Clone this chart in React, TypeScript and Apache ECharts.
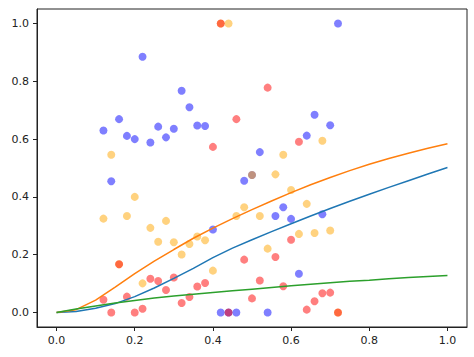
import React, { useEffect, useRef } from "react";
import * as echarts from "echarts";

// scatter x positions (shared by the three point groups)
const pointX = [0.12, 0.14, 0.16, 0.18, 0.2, 0.22, 0.24, 0.26, 0.28, 0.3, 0.32, 0.34, 0.36, 0.38, 0.4, 0.42, 0.44, 0.46, 0.48, 0.5, 0.52, 0.54, 0.56, 0.58, 0.6, 0.62, 0.64, 0.66, 0.68, 0.7, 0.72];
const blueY = [0.63, 0.454, 0.669, 0.611, 0.6, 0.885, 0.588, 0.643, 0.606, 0.636, 0.767, 0.71, 0.647, 0.645, 0.287, 0, 0, 0, 0.456, 0.476, 0.555, 0, 0.334, 0.364, 0.324, 0.134, 0.612, 0.684, 0.34, 0.648, 1.0];
const orangeY = [0.325, 0.546, 0.167, 0.334, 0.4, 0.101, 0.293, 0.245, 0.317, 0.243, 0.201, 0.237, 0.263, 0.25, 0.145, 1.0, 1.0, 0.334, 0.364, 0.476, 0.334, 0.221, 0.478, 0.546, 0.424, 0.272, 0.376, 0.275, 0.594, 0.284, 0];
const redY = [0.044, 0, 0.167, 0.055, 0, 0.013, 0.117, 0.109, 0.078, 0.121, 0.033, 0.054, 0.09, 0.102, 0.573, 1.0, 0, 0.669, 0.183, 0.049, 0.111, 0.778, 0.192, 0.091, 0.252, 0.591, 0.01, 0.039, 0.067, 0.069, 0];

// curve samples
const curveX = [0, 0.05, 0.1, 0.15, 0.2, 0.25, 0.3, 0.35, 0.4, 0.45, 0.5, 0.55, 0.6, 0.65, 0.7, 0.75, 0.8, 0.85, 0.9, 0.95, 1.0];
const blueCurve = [0, 0.004, 0.015, 0.031, 0.055, 0.085, 0.118, 0.153, 0.19, 0.223, 0.252, 0.28, 0.307, 0.334, 0.36, 0.385, 0.409, 0.433, 0.456, 0.479, 0.502];
const orangeCurve = [0, 0.01, 0.043, 0.088, 0.135, 0.178, 0.218, 0.257, 0.292, 0.325, 0.356, 0.386, 0.415, 0.442, 0.467, 0.491, 0.513, 0.533, 0.551, 0.568, 0.584];
const greenCurve = [0, 0.012, 0.023, 0.033, 0.042, 0.05, 0.057, 0.063, 0.069, 0.075, 0.081, 0.087, 0.093, 0.098, 0.103, 0.108, 0.112, 0.117, 0.121, 0.125, 0.128];

const tickValues = [0, 0.2, 0.4, 0.6, 0.8, 1.0];

const pairs = (xs: number[], ys: number[]) => xs.map((x, i) => [x, ys[i]]);

export default function App() {
  const ref = useRef<HTMLDivElement>(null);
  useEffect(() => {
    document.body.style.margin = "0";
    if (!ref.current) return;
    const chart = echarts.init(ref.current, undefined, { renderer: "svg" });
    const axisCommon = {
      type: "value" as const,
      min: -0.05,
      max: 1.05,
      splitLine: { show: false },
      axisLine: { show: true, onZero: false, lineStyle: { color: "#222", width: 1 } },
      axisTick: {
        show: true,
        inside: false,
        length: 4,
        lineStyle: { color: "#222", width: 1 },
        customValues: tickValues,
      },
      axisLabel: {
        show: true,
        customValues: tickValues,
        formatter: (v: number) => v.toFixed(1),
        fontFamily: "DejaVu Sans",
        fontSize: 11,
        color: "#222",
        margin: 8,
      },
    };
    const scatter = (ys: number[], color: string) => ({
      type: "scatter",
      data: pairs(pointX, ys),
      symbol: "circle",
      symbolSize: 8,
      itemStyle: { color, opacity: 0.5 },
      silent: true,
    });
    const line = (ys: number[], color: string) => ({
      type: "line",
      data: pairs(curveX, ys),
      showSymbol: false,
      smooth: false,
      lineStyle: { color, width: 1.5 },
      silent: true,
    });
    chart.setOption({
      animation: false,
      backgroundColor: "#fff",
      grid: {
        left: 37,
        right: 7,
        top: 9,
        bottom: 30,
        show: true,
        borderColor: "#222",
        borderWidth: 1,
        backgroundColor: "transparent",
      },
      xAxis: { ...axisCommon },
      yAxis: { ...axisCommon },
      series: [
        scatter(blueY, "blue"),
        scatter(orangeY, "orange"),
        scatter(redY, "red"),
        line(blueCurve, "#1f77b4"),
        line(orangeCurve, "#ff7f0e"),
        line(greenCurve, "#2ca02c"),
      ],
    });
    return () => chart.dispose();
  }, []);
  return <div ref={ref} style={{ width: 474, height: 357 }} />;
}
